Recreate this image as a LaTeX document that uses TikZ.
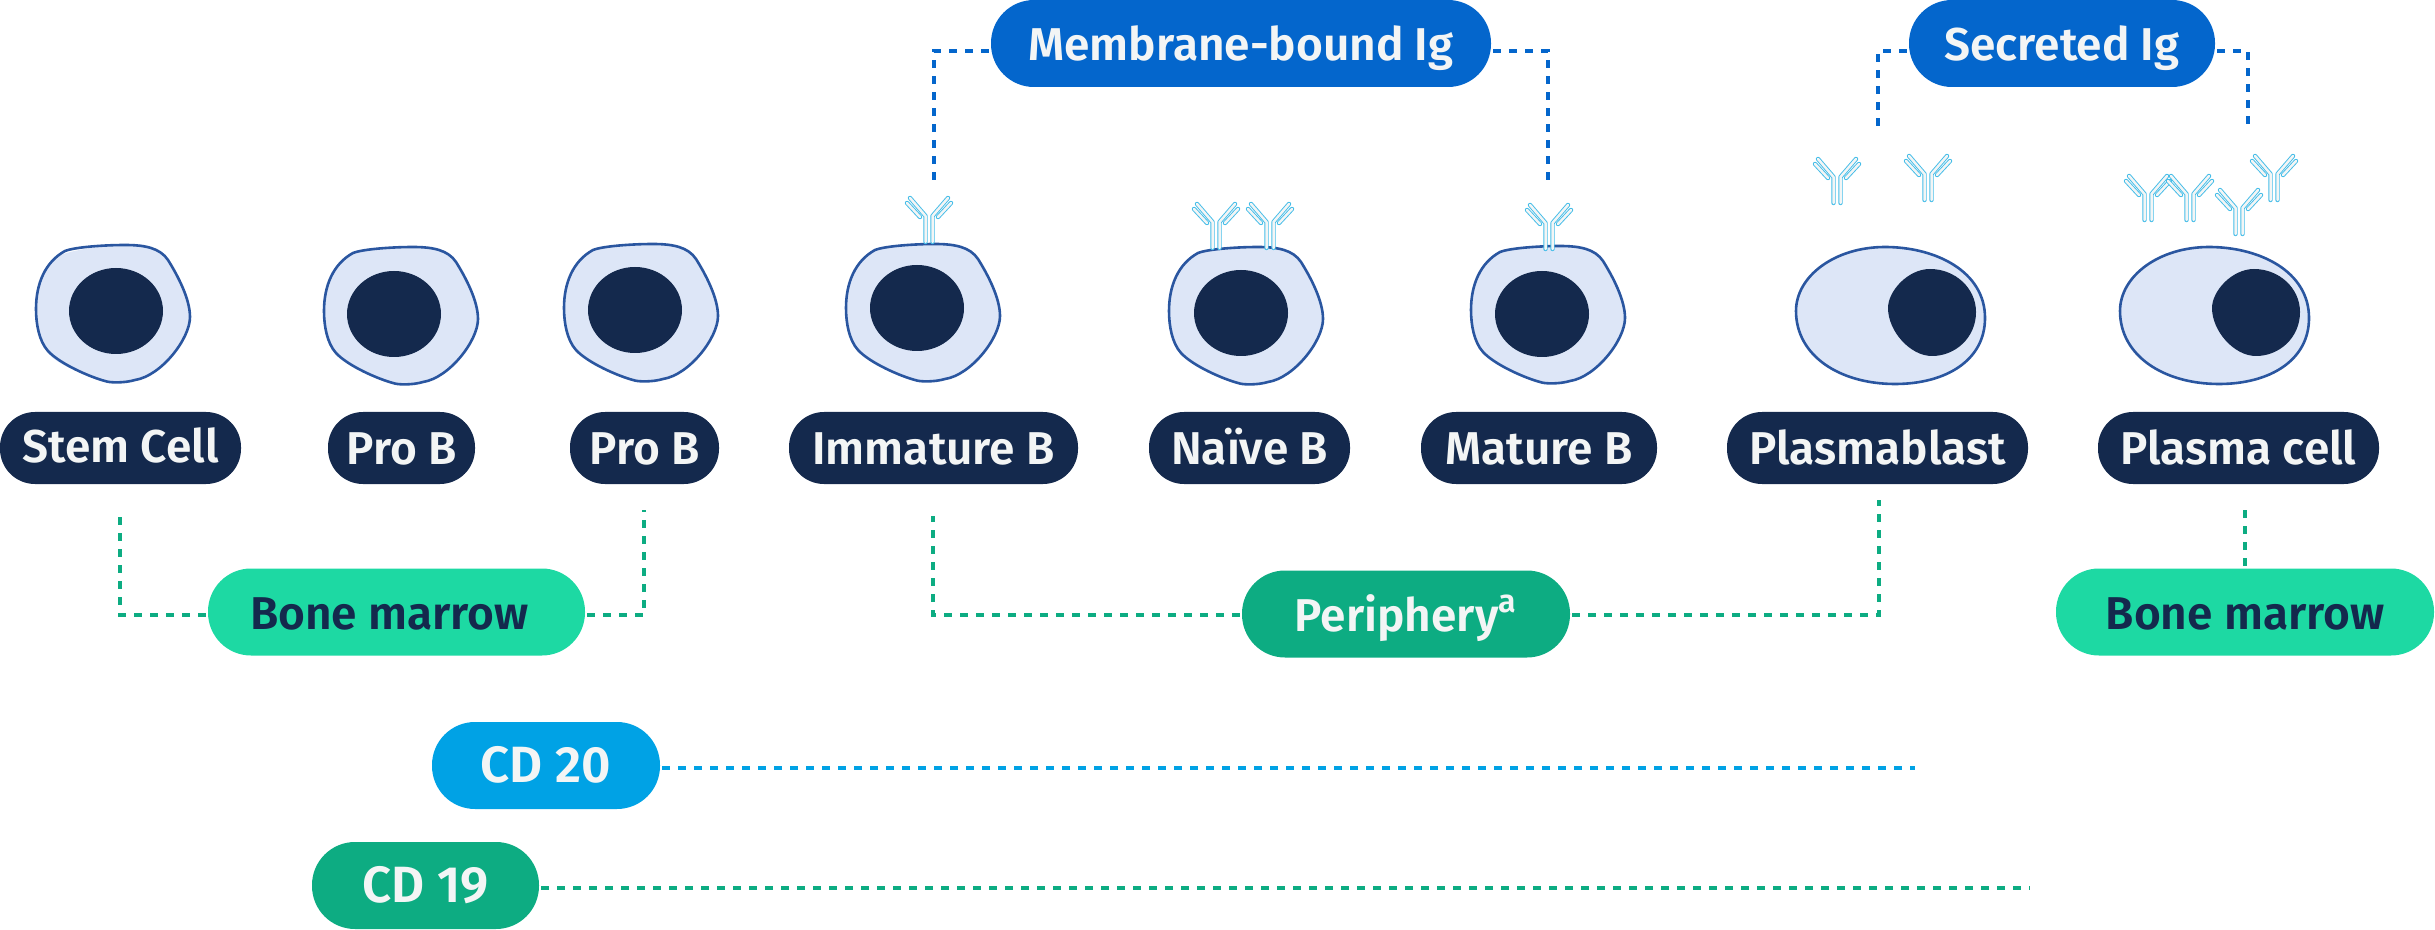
\documentclass[tikz,border=0pt]{standalone}
\usepackage{fontspec}
\setmainfont{Fira Sans}[UprightFont=* SemiBold,BoldFont=* Bold]
\definecolor{navy}{HTML}{14294D}
\definecolor{igblue}{HTML}{0466CC}
\definecolor{mint}{HTML}{1DD9A3}
\definecolor{teal}{HTML}{0DAC82}
\definecolor{skyb}{HTML}{00A2E5}
\definecolor{cellfill}{HTML}{DDE6F7}
\definecolor{celledge}{HTML}{2A56A0}
\definecolor{abedge}{HTML}{45BDE8}
\definecolor{abfill}{HTML}{F3F5F5}
\newcommand\lymphshape{(-50,-63) .. controls (-40,-67) and (-10,-69) .. (10,-69)
  .. controls (30,-69) and (45,-66) .. (53,-54)
  .. controls (63,-38) and (75,-15) .. (75,3)
  .. controls (75,25) and (46,62) .. (20,66)
  .. controls (10,69) and (-5,69) .. (-10,67)
  .. controls (-25,63) and (-55,50) .. (-67,37)
  .. controls (-76,27) and (-79,10) .. (-79,-5)
  .. controls (-79,-30) and (-70,-52) .. (-50,-63) -- cycle}
\newcommand\plasmashape{(-5,-69) .. controls (45,-69) and (95,-45) .. (95,2)
  .. controls (95,45) and (55,68) .. (5,68)
  .. controls (-50,68) and (-94,40) .. (-94,-5)
  .. controls (-94,-40) and (-55,-69) .. (-5,-69) -- cycle}
\newcommand\plasmacore{(40,-47) .. controls (65,-47) and (86,-28) .. (86,-4)
  .. controls (86,22) and (65,40) .. (42,40)
  .. controls (20,40) and (-2,15) .. (-2,-8)
  .. controls (-2,-25) and (18,-47) .. (40,-47) -- cycle}
\newcommand\abstrokes[1]{%
  \draw[#1] (-3.5,46) -- (-3.5,20) -- (-19,2);
  \draw[#1] (3.5,46) -- (3.5,20) -- (19,2);
  \draw[#1] (-22,7) -- (-9,21);
  \draw[#1] (22,7) -- (9,21);
}
\tikzset{
  x=0.5pt,y=-0.5pt,
  pill/.style={rounded corners=21.5pt,inner sep=0pt,font=\fontsize{23}{26}\selectfont,minimum height=43.5pt,text height=17pt,text depth=0pt},
  cellpill/.style={pill,fill=navy,text=abfill,rounded corners=17.5pt,minimum height=36pt},
  igpill/.style={pill,fill=igblue,text=abfill},
  marrow/.style={pill,fill=mint,text=navy},
  tealpill/.style={pill,fill=teal,text=abfill},
  skypill/.style={pill,fill=skyb,text=abfill},
  cdtext/.style={font=\fontsize{25.5}{28}\selectfont},
  dotline/.style={line width=2pt,dash pattern=on 4pt off 4pt,dash phase=7pt},
  igline/.style={dotline,draw=igblue},
  tealline/.style={dotline,draw=teal},
  skyline/.style={dotline,draw=skyb},
  lymph/.pic={
    \fill[cellfill] \lymphshape;
    \draw[celledge,line width=1.3pt] \lymphshape;
  },
  stemcell/.pic={
    \fill[cellfill,rotate=5] \lymphshape;
    \draw[celledge,line width=1.3pt] \lymphshape;
  },
  plasmabody/.pic={
    \fill[cellfill] \plasmashape;
    \draw[celledge,line width=1.3pt] \plasmashape;
    \fill[navy] \plasmacore;
  },
  antibody/.pic={
    \abstrokes{abedge,line width=2.2pt,line cap=round,line join=round}
    \abstrokes{abfill,line width=1.25pt,line cap=round,line join=round}
  },
}
\begin{document}
\begin{tikzpicture}
\useasboundingbox (0,0) rectangle (2435,930);

% cells
\pic at (115,314) {stemcell};
\pic at (403,316) {lymph};
\pic at (643,313) {lymph};
\pic at (925,313) {lymph};
\pic at (1248,316) {lymph};
\pic at (1550,315) {lymph};
\pic at (1890,316) {plasmabody};
\pic at (2214,316) {plasmabody};

% nuclei of the round-nucleus stages
\foreach \nx/\ny in {116/311,394/314,635/310,917/308,1241/313,1542/314}
  \fill[navy] (\nx,\ny) ellipse [x radius=47,y radius=43];

% immunoglobulins
\foreach \ax/\ay in {929/196,1216/202,1270/202,1549/203,1837/157,1928/154,2148/174,2190/174,2239/188,2274/154}
  \pic at (\ax,\ay) {antibody};

% cell stage labels
\node[cellpill,minimum width=120.5pt,text height=14pt] (stem) at (120.5,448) {Stem Cell};
\node[cellpill,minimum width=73.5pt] (prob1) at (401.5,448) {Pro B};
\node[cellpill,minimum width=74.5pt] (prob2) at (644.5,448) {Pro B};
\node[cellpill,minimum width=144.5pt] (immature) at (933.5,448) {Immature B};
\node[cellpill,minimum width=100.5pt] (naive) at (1249.5,448) {Naïve B};
\node[cellpill,minimum width=118pt] (mature) at (1539,448) {Mature B};
\node[cellpill,minimum width=150.5pt] (plasmablast) at (1877.5,448) {Plasmablast};
\node[cellpill,minimum width=140.5pt] (plasma) at (2238.5,448) {Plasma cell};

% category labels
\node[igpill,minimum width=250pt] (membrane) at (1241,43.5) {Membrane-bound Ig};
\node[igpill,minimum width=153pt] (secreted) at (2062,43.5) {Secreted Ig};
\node[marrow,minimum width=188.5pt] (marrowa) at (396.5,612) {Bone marrow\hspace*{7pt}};
\node[tealpill,minimum width=164pt] (periphery) at (1406,614) {Periphery\textsuperscript{a}};
\node[marrow,minimum width=189pt] (marrowb) at (2245,612) {Bone marrow};
\node[skypill,cdtext,minimum width=114pt] (cdtwenty) at (546,765.5) {CD 20};
\node[tealpill,cdtext,minimum width=113.5pt] (cdnineteen) at (425.5,885.5) {CD 19};

% free ends of the connectors
\coordinate (mbl) at (934,180);
\coordinate (mbr) at (1548,180);
\coordinate (sil) at (1878,126);
\coordinate (sir) at (2248,126);
\coordinate (bma) at (120,510);
\coordinate (bmc) at (644,510);
\coordinate (pea) at (933,516);
\coordinate (peb) at (1879,500);
\coordinate (bmb) at (2245,506);
\coordinate (cdta) at (1915,768);
\coordinate (cdna) at (2030,888);

% connectors
\draw[igline] ([yshift=-3.75pt]membrane.west) -| (mbl);
\draw[igline] ([yshift=-3.75pt]membrane.east) -| (mbr);
\draw[igline] ([yshift=-3.75pt]secreted.west) -| (sil);
\draw[igline] ([yshift=-3.75pt]secreted.east) -| (sir);
\draw[tealline] ([yshift=-1.5pt]marrowa.west) -| (bma);
\draw[tealline] ([yshift=-1.5pt]marrowa.east) -| (bmc);
\draw[tealline] ([yshift=-.5pt]periphery.west) -| (pea);
\draw[tealline] ([yshift=-.5pt]periphery.east) -| (peb);
\draw[tealline] (marrowb.north) -- (bmb);
\draw[skyline] ([yshift=-1.25pt]cdtwenty.east) -- (cdta);
\draw[tealline] ([yshift=-1.25pt]cdnineteen.east) -- (cdna);
\end{tikzpicture}
\end{document}
